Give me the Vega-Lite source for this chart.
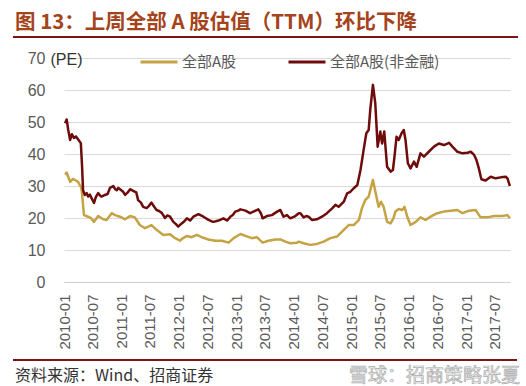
{
  "$schema": "https://vega.github.io/schema/vega-lite/v6.json",
  "width": 446,
  "height": 224,
  "autosize": {"type": "none"},
  "padding": {"left": 64, "top": 58, "right": 16, "bottom": 104},
  "background": "white",
  "config": {"view": {"stroke": null}, "font": "Liberation Sans"},
  "datasets": {
    "g": [
      {"d":"2010-01-08","v":33.5},{"d":"2010-01-18","v":34.2},{"d":"2010-02-09","v":31.3},{"d":"2010-02-27","v":32.2},{"d":"2010-03-15","v":31.8},{"d":"2010-03-31","v":31.3},{"d":"2010-04-22","v":29.4},{"d":"2010-05-08","v":20.9},{"d":"2010-06-03","v":20.4},{"d":"2010-06-20","v":20.0},{"d":"2010-07-11","v":18.8},{"d":"2010-08-06","v":20.6},{"d":"2010-09-07","v":19.6},{"d":"2010-09-29","v":19.4},{"d":"2010-10-31","v":21.5},{"d":"2010-11-21","v":20.9},{"d":"2010-12-23","v":20.4},{"d":"2011-01-24","v":19.6},{"d":"2011-02-25","v":20.6},{"d":"2011-03-27","v":20.2},{"d":"2011-04-28","v":17.8},{"d":"2011-05-30","v":16.8},{"d":"2011-07-11","v":17.8},{"d":"2011-08-12","v":16.3},{"d":"2011-09-24","v":14.7},{"d":"2011-11-06","v":14.9},{"d":"2011-12-08","v":13.7},{"d":"2012-01-09","v":12.9},{"d":"2012-01-20","v":13.5},{"d":"2012-02-21","v":14.4},{"d":"2012-03-23","v":14.0},{"d":"2012-04-24","v":14.7},{"d":"2012-05-25","v":14.0},{"d":"2012-07-07","v":13.3},{"d":"2012-08-19","v":12.9},{"d":"2012-09-30","v":12.9},{"d":"2012-11-12","v":12.3},{"d":"2012-12-14","v":13.7},{"d":"2013-01-26","v":15.0},{"d":"2013-02-27","v":14.4},{"d":"2013-04-09","v":13.7},{"d":"2013-05-10","v":14.0},{"d":"2013-06-16","v":12.3},{"d":"2013-07-23","v":12.9},{"d":"2013-09-05","v":13.3},{"d":"2013-10-07","v":13.3},{"d":"2013-11-08","v":12.6},{"d":"2013-12-09","v":12.1},{"d":"2014-01-21","v":12.3},{"d":"2014-02-01","v":12.6},{"d":"2014-03-03","v":12.1},{"d":"2014-04-15","v":11.6},{"d":"2014-05-27","v":11.9},{"d":"2014-07-09","v":12.6},{"d":"2014-08-21","v":13.7},{"d":"2014-10-02","v":14.2},{"d":"2014-11-14","v":16.3},{"d":"2014-12-15","v":17.8},{"d":"2015-01-16","v":17.8},{"d":"2015-02-18","v":19.4},{"d":"2015-03-09","v":23.0},{"d":"2015-03-30","v":25.6},{"d":"2015-04-21","v":26.7},{"d":"2015-05-18","v":31.9},{"d":"2015-06-09","v":26.7},{"d":"2015-06-23","v":23.5},{"d":"2015-07-08","v":25.1},{"d":"2015-07-25","v":23.5},{"d":"2015-08-16","v":18.8},{"d":"2015-09-07","v":18.3},{"d":"2015-09-25","v":19.9},{"d":"2015-10-08","v":22.0},{"d":"2015-10-29","v":22.8},{"d":"2015-11-20","v":22.5},{"d":"2015-12-05","v":23.5},{"d":"2015-12-22","v":20.4},{"d":"2016-01-12","v":17.8},{"d":"2016-02-14","v":18.8},{"d":"2016-03-15","v":20.2},{"d":"2016-04-16","v":19.4},{"d":"2016-05-18","v":20.4},{"d":"2016-06-30","v":21.5},{"d":"2016-08-11","v":22.0},{"d":"2016-09-23","v":22.3},{"d":"2016-11-05","v":22.5},{"d":"2016-12-07","v":21.5},{"d":"2017-01-18","v":22.3},{"d":"2017-02-28","v":22.5},{"d":"2017-04-01","v":20.2},{"d":"2017-05-14","v":20.2},{"d":"2017-06-25","v":20.6},{"d":"2017-08-18","v":20.6},{"d":"2017-09-19","v":20.9},{"d":"2017-10-04","v":19.9}
    ],
    "r": [
      {"d":"2010-01-08","v":49.6},{"d":"2010-01-18","v":50.8},{"d":"2010-01-28","v":47.5},{"d":"2010-02-09","v":44.4},{"d":"2010-02-20","v":46.2},{"d":"2010-03-05","v":45.0},{"d":"2010-03-18","v":45.5},{"d":"2010-03-31","v":44.6},{"d":"2010-04-18","v":43.4},{"d":"2010-04-26","v":36.0},{"d":"2010-05-02","v":28.7},{"d":"2010-05-13","v":27.2},{"d":"2010-05-25","v":27.8},{"d":"2010-06-03","v":26.7},{"d":"2010-06-15","v":27.3},{"d":"2010-06-25","v":26.2},{"d":"2010-07-11","v":24.7},{"d":"2010-07-22","v":26.5},{"d":"2010-08-06","v":27.8},{"d":"2010-08-18","v":27.0},{"d":"2010-08-28","v":26.7},{"d":"2010-09-18","v":27.2},{"d":"2010-10-05","v":27.5},{"d":"2010-10-20","v":29.4},{"d":"2010-11-10","v":30.0},{"d":"2010-11-22","v":29.0},{"d":"2010-12-02","v":28.7},{"d":"2010-12-12","v":29.4},{"d":"2010-12-23","v":29.0},{"d":"2011-01-10","v":28.3},{"d":"2011-01-24","v":27.2},{"d":"2011-02-10","v":28.0},{"d":"2011-02-25","v":29.0},{"d":"2011-03-16","v":28.5},{"d":"2011-04-05","v":28.0},{"d":"2011-04-17","v":25.6},{"d":"2011-05-05","v":24.8},{"d":"2011-05-19","v":23.5},{"d":"2011-06-10","v":23.1},{"d":"2011-06-25","v":23.8},{"d":"2011-07-11","v":24.8},{"d":"2011-07-28","v":23.5},{"d":"2011-08-12","v":22.5},{"d":"2011-08-28","v":22.2},{"d":"2011-09-14","v":21.6},{"d":"2011-10-05","v":20.0},{"d":"2011-10-20","v":20.8},{"d":"2011-11-06","v":20.4},{"d":"2011-11-27","v":18.8},{"d":"2011-12-15","v":18.0},{"d":"2011-12-28","v":17.3},{"d":"2012-01-19","v":18.3},{"d":"2012-02-05","v":19.0},{"d":"2012-02-21","v":19.9},{"d":"2012-03-12","v":19.2},{"d":"2012-04-02","v":20.4},{"d":"2012-05-04","v":21.2},{"d":"2012-05-20","v":20.8},{"d":"2012-06-05","v":20.4},{"d":"2012-07-07","v":19.4},{"d":"2012-07-25","v":19.0},{"d":"2012-08-08","v":18.8},{"d":"2012-09-09","v":19.2},{"d":"2012-10-10","v":19.9},{"d":"2012-11-02","v":19.2},{"d":"2012-11-23","v":20.4},{"d":"2012-12-10","v":21.0},{"d":"2012-12-24","v":22.0},{"d":"2013-01-12","v":22.3},{"d":"2013-01-26","v":22.7},{"d":"2013-02-27","v":22.3},{"d":"2013-03-28","v":21.5},{"d":"2013-04-19","v":22.0},{"d":"2013-05-20","v":22.7},{"d":"2013-06-05","v":21.5},{"d":"2013-06-16","v":19.9},{"d":"2013-07-13","v":20.6},{"d":"2013-08-14","v":20.9},{"d":"2013-09-16","v":22.0},{"d":"2013-10-07","v":22.5},{"d":"2013-10-27","v":20.4},{"d":"2013-11-18","v":20.9},{"d":"2013-12-09","v":19.9},{"d":"2014-01-10","v":20.6},{"d":"2014-02-01","v":21.5},{"d":"2014-02-11","v":21.5},{"d":"2014-03-03","v":20.2},{"d":"2014-03-20","v":20.6},{"d":"2014-04-04","v":20.4},{"d":"2014-04-25","v":19.4},{"d":"2014-05-27","v":19.6},{"d":"2014-06-28","v":20.4},{"d":"2014-07-30","v":21.5},{"d":"2014-09-01","v":23.0},{"d":"2014-09-22","v":24.1},{"d":"2014-10-12","v":23.5},{"d":"2014-11-14","v":25.1},{"d":"2014-12-05","v":27.7},{"d":"2014-12-26","v":28.2},{"d":"2015-01-16","v":29.3},{"d":"2015-02-08","v":30.3},{"d":"2015-02-28","v":35.0},{"d":"2015-03-20","v":41.3},{"d":"2015-04-06","v":46.5},{"d":"2015-04-21","v":47.5},{"d":"2015-05-01","v":53.8},{"d":"2015-05-18","v":61.6},{"d":"2015-06-02","v":55.8},{"d":"2015-06-17","v":42.3},{"d":"2015-07-04","v":47.0},{"d":"2015-07-15","v":43.3},{"d":"2015-07-29","v":47.0},{"d":"2015-08-16","v":36.0},{"d":"2015-09-07","v":34.5},{"d":"2015-09-22","v":35.0},{"d":"2015-10-02","v":39.2},{"d":"2015-10-15","v":45.4},{"d":"2015-10-29","v":44.4},{"d":"2015-11-16","v":46.5},{"d":"2015-11-30","v":47.5},{"d":"2015-12-11","v":44.4},{"d":"2015-12-26","v":37.1},{"d":"2016-01-12","v":35.5},{"d":"2016-02-03","v":37.6},{"d":"2016-02-20","v":36.0},{"d":"2016-03-15","v":40.2},{"d":"2016-04-06","v":39.2},{"d":"2016-05-07","v":40.7},{"d":"2016-06-09","v":42.3},{"d":"2016-07-10","v":43.3},{"d":"2016-08-11","v":42.8},{"d":"2016-09-13","v":43.5},{"d":"2016-10-04","v":42.3},{"d":"2016-11-05","v":40.7},{"d":"2016-12-07","v":40.2},{"d":"2017-01-08","v":40.4},{"d":"2017-01-29","v":40.7},{"d":"2017-02-19","v":39.7},{"d":"2017-03-06","v":38.1},{"d":"2017-03-21","v":35.5},{"d":"2017-04-06","v":32.1},{"d":"2017-05-03","v":31.7},{"d":"2017-06-04","v":32.9},{"d":"2017-07-06","v":32.4},{"d":"2017-08-07","v":32.7},{"d":"2017-09-08","v":32.9},{"d":"2017-09-19","v":32.4},{"d":"2017-10-04","v":30.0}
    ]
  },
  "encoding": {
    "x": {
      "field": "d", "type": "temporal",
      "scale": {"domain": [{"year": 2010, "month": 1, "date": 1}, {"year": 2017, "month": 10, "date": 5}], "nice": false},
      "axis": {
        "title": null,
        "values": [
          {"year": 2010, "month": 1, "date": 1}, {"year": 2010, "month": 7, "date": 1},
          {"year": 2011, "month": 1, "date": 1}, {"year": 2011, "month": 7, "date": 1},
          {"year": 2012, "month": 1, "date": 1}, {"year": 2012, "month": 7, "date": 1},
          {"year": 2013, "month": 1, "date": 1}, {"year": 2013, "month": 7, "date": 1},
          {"year": 2014, "month": 1, "date": 1}, {"year": 2014, "month": 7, "date": 1},
          {"year": 2015, "month": 1, "date": 1}, {"year": 2015, "month": 7, "date": 1},
          {"year": 2016, "month": 1, "date": 1}, {"year": 2016, "month": 7, "date": 1},
          {"year": 2017, "month": 1, "date": 1}, {"year": 2017, "month": 7, "date": 1}
        ],
        "format": "%Y-%m",
        "labelAngle": 270,
        "labelAlign": "right",
        "labelBaseline": "middle",
        "labelFontSize": 15,
        "labelColor": "#595959",
        "labelPadding": 12,
        "labelOverlap": false,
        "labelSeparation": 0,
        "ticks": false,
        "grid": false,
        "domain": true,
        "domainColor": "#D0D0D0",
        "domainWidth": 1
      }
    },
    "y": {
      "field": "v", "type": "quantitative",
      "scale": {"domain": [0, 70], "nice": false},
      "axis": {
        "title": "(PE)",
        "titleAngle": 0,
        "titleX": -14,
        "titleY": 1,
        "titleAlign": "left",
        "titleBaseline": "middle",
        "titleFontSize": 16,
        "titleFontWeight": "normal",
        "titleColor": "#333333",
        "values": [0, 10, 20, 30, 40, 50, 60, 70],
        "labelFontSize": 16,
        "labelColor": "#595959",
        "labelPadding": 19,
        "labelOverlap": false,
        "labelSeparation": 0,
        "ticks": false,
        "domain": false,
        "grid": true,
        "gridColor": "#D9D9D9",
        "gridWidth": 1,
        "gridOpacity": 1
      }
    }
  },
  "layer": [
    {
      "data": {"name": "g"},
      "mark": {"type": "line", "strokeWidth": 2.5, "strokeJoin": "round"},
      "encoding": {
        "color": {
          "datum": "全部A股",
          "type": "nominal",
          "scale": {"domain": ["全部A股", "全部A股(非金融)"], "range": ["#C5A243", "#6E0B0B"]},
          "legend": {
            "title": null,
            "orient": "none",
            "legendX": 75,
            "legendY": -16,
            "direction": "horizontal",
            "symbolType": "stroke",
            "symbolSize": 1369,
            "symbolStrokeWidth": 3,
            "labelFont": "Noto Sans CJK SC",
            "labelFontSize": 15,
            "labelColor": "#595959",
            "labelOffset": 3,
            "columnPadding": 45,
            "padding": 0
          }
        }
      }
    },
    {
      "data": {"name": "r"},
      "mark": {"type": "line", "strokeWidth": 2.5, "strokeJoin": "round"},
      "encoding": {
        "color": {"datum": "全部A股(非金融)", "type": "nominal"}
      }
    },
    {
      "data": {"values": [{}]},
      "mark": {"type": "text", "text": "图 13：上周全部 A 股估值（TTM）环比下降", "align": "left", "baseline": "middle", "font": "Noto Sans CJK SC", "fontSize": 20.5, "fontWeight": "bold", "color": "#A5431B"},
      "encoding": {"x": {"value": -49}, "y": {"value": -35}}
    },
    {
      "data": {"values": [{}]},
      "mark": {"type": "rule", "color": "#7B1616", "strokeWidth": 2},
      "encoding": {"x": {"value": -51}, "x2": {"value": 454}, "y": {"value": -21}}
    },
    {
      "data": {"values": [{}]},
      "mark": {"type": "rule", "color": "#7B1616", "strokeWidth": 2},
      "encoding": {"x": {"value": -51}, "x2": {"value": 453}, "y": {"value": 302}}
    },
    {
      "data": {"values": [{}]},
      "mark": {"type": "text", "text": "资料来源：Wind、招商证券", "align": "left", "baseline": "middle", "font": "Noto Sans CJK SC", "fontSize": 16, "color": "#333333"},
      "encoding": {"x": {"value": -49}, "y": {"value": 318}}
    },
    {
      "data": {"values": [{}]},
      "mark": {"type": "text", "text": "雪球：招商策略张夏", "align": "right", "baseline": "middle", "font": "Noto Sans CJK SC", "fontSize": 19, "color": "#F4F4F4", "stroke": "#AAAAAA", "strokeWidth": 0.7},
      "encoding": {"x": {"value": 456}, "y": {"value": 318}}
    }
  ]
}
